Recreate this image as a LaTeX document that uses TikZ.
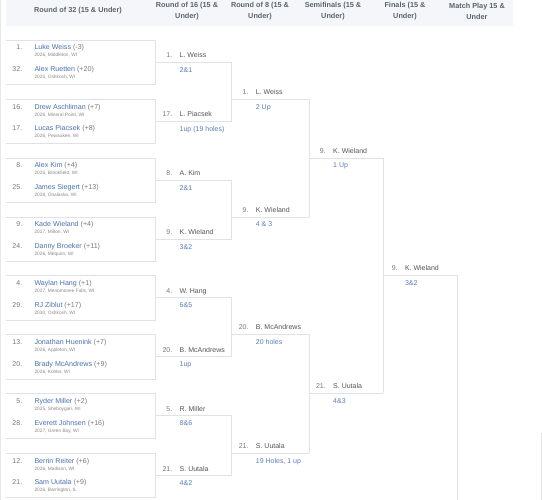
\documentclass[tikz,border=0pt]{standalone}
\usepackage{fontspec}
\setmainfont{Liberation Sans}
\definecolor{hdrbg}{HTML}{F4F6F9}
\definecolor{hdrtx}{HTML}{5B6370}
\definecolor{ln}{HTML}{DFE3E8}
\definecolor{edge}{HTML}{E6E8EB}
\definecolor{link}{HTML}{4A72AD}
\definecolor{score}{HTML}{5A80B9}
\definecolor{num}{HTML}{7A7A7A}
\definecolor{sub}{HTML}{8A8A8A}
\definecolor{nm}{HTML}{555555}

\newcommand{\rbox}[2]{%
  \node[rbx] (#1) at (6,#2) {};
  \draw[conn] (#1.north west) -- (#1.north east) -- (#1.south east) -- (#1.south west);
}
\newcommand{\rentry}[7]{%
  \node[seed] (#1#2n) at ([shift={(16.4,#3)}]#1.north west) {#4};
  \node[pname] (#1#2p) at ([shift={(28.3,#3)}]#1.north west) {#5 \textcolor{num}{#6}};
  \node[ploc] (#1#2l) at ([shift={(28.3,#3+7)}]#1.north west) {#7};
}
\newcommand{\slot}[7][0]{%
  \coordinate (#2L) at #3;
  \coordinate (#2R) at (#2L -| #4,0);
  \draw[conn] (#2L) -- (#2R);
  \node[wseed] (#2s) at ([shift={(17+#1,-4.5)}]#2L) {#5};
  \node[wname] (#2n) at ([shift={(24+#1,-4.5)}]#2L) {#6};
  \node[wscore] (#2c) at ([shift={(24+#1,10)}]#2L) {#7};
}

\begin{document}
\begin{tikzpicture}[x=1pt,y=-1pt,
  hdr/.style={font=\fontsize{7.3}{11}\selectfont\bfseries, text=hdrtx, align=center, inner sep=0},
  seed/.style={anchor=base east, inner sep=0, font=\fontsize{7}{8}\selectfont, text=num},
  pname/.style={anchor=base west, inner sep=0, font=\fontsize{7.1}{8}\selectfont, text=link},
  ploc/.style={anchor=base west, inner sep=0, font=\fontsize{4.8}{6}\selectfont, text=sub},
  wseed/.style={anchor=base east, inner sep=0, font=\fontsize{7}{8}\selectfont, text=num},
  wname/.style={anchor=base west, inner sep=0, font=\fontsize{7}{8}\selectfont, text=nm},
  wscore/.style={anchor=base west, inner sep=0, font=\fontsize{7}{8}\selectfont, text=score},
  rbx/.style={minimum width=149.5pt, minimum height=44.5pt, inner sep=0, outer sep=0, anchor=north west},
  conn/.style={draw=ln, line width=0.9pt},
  edgeline/.style={draw=edge, line width=0.8pt},
]
\useasboundingbox (0,0) rectangle (542,500);
\fill[white] (0,0) rectangle (542,500);

% faint left edge
\coordinate (lb1) at (0.8,0);
\coordinate (lb2) at (0.8,500);
\draw[edgeline] (lb1) -- (lb2);

% header
\fill[hdrbg] (6,0) rectangle (513,26);
\node[hdr] (h32) at (78,11) {Round of 32 (15 \& Under)};
\node[hdr] (h16) at (187,11) {Round of 16 (15 \&\\Under)};
\node[hdr] (h8)  at (260,11) {Round of 8 (15 \&\\Under)};
\node[hdr] (hsf) at (333,11) {Semifinals (15 \&\\Under)};
\node[hdr] (hf)  at (405,11) {Finals (15 \&\\Under)};
\node[hdr] (hmp) at (477,11) {Match Play 15 \&\\Under};

% round of 32
\rbox{b1}{40}
\rentry{b1}{a}{10}{1.}{Luke Weiss}{(-3)}{2026, Middleton, WI}
\rentry{b1}{b}{31.7}{32.}{Alex Ruetten}{(+20)}{2025, Oshkosh, WI}
\rbox{b2}{99.2}
\rentry{b2}{a}{10}{16.}{Drew Aschliman}{(+7)}{2026, Mineral Point, WI}
\rentry{b2}{b}{31.7}{17.}{Lucas Piacsek}{(+8)}{2026, Pewaukee, WI}
\rbox{b3}{158}
\rentry{b3}{a}{10}{8.}{Alex Kim}{(+4)}{2025, Brookfield, WI}
\rentry{b3}{b}{31.7}{25.}{James Siegert}{(+13)}{2028, Onalaska, WI}
\rbox{b4}{217}
\rentry{b4}{a}{10}{9.}{Kade Wieland}{(+4)}{2027, Milton, WI}
\rentry{b4}{b}{31.7}{24.}{Danny Broeker}{(+11)}{2026, Mequon, WI}
\rbox{b5}{275.5}
\rentry{b5}{a}{10}{4.}{Waylan Hang}{(+1)}{2027, Menomonee Falls, WI}
\rentry{b5}{b}{31.7}{29.}{RJ Ziblut}{(+17)}{2030, Oshkosh, WI}
\rbox{b6}{334.5}
\rentry{b6}{a}{10}{13.}{Jonathan Huenink}{(+7)}{2026, Appleton, WI}
\rentry{b6}{b}{31.7}{20.}{Brady McAndrews}{(+9)}{2026, Kohler, WI}
\rbox{b7}{393.5}
\rentry{b7}{a}{10}{5.}{Ryder Miller}{(+2)}{2025, Sheboygan, WI}
\rentry{b7}{b}{31.7}{28.}{Everett Johnsen}{(+16)}{2027, Green Bay, WI}
\rbox{b8}{453.3}
\rentry{b8}{a}{10}{12.}{Berrin Reiter}{(+6)}{2026, Madison, WI}
\rentry{b8}{b}{31.7}{21.}{Sam Uutala}{(+9)}{2026, Barrington, IL}

% round of 16
\slot{m1}{(b1.east)}{231.7}{1.}{L. Weiss}{2\&1}
\slot{m2}{(b2.east)}{231.7}{17.}{L. Piacsek}{1up (19 holes)}
\slot{m3}{(b3.east)}{231.7}{8.}{A. Kim}{2\&1}
\slot{m4}{(b4.east)}{231.7}{9.}{K. Wieland}{3\&2}
\slot{m5}{(b5.east)}{231.7}{4.}{W. Hang}{6\&5}
\slot{m6}{(b6.east)}{231.7}{20.}{B. McAndrews}{1up}
\slot{m7}{(b7.east)}{231.7}{5.}{R. Miller}{8\&6}
\slot{m8}{(b8.east)}{231.7}{21.}{S. Uutala}{4\&2}
\draw[conn] (m1R) -- (m2R);
\draw[conn] (m3R) -- (m4R);
\draw[conn] (m5R) -- (m6R);
\draw[conn] (m7R) -- (m8R);

% round of 8
\slot{q1}{(m1R |- b2.north)}{309}{1.}{L. Weiss}{2 Up}
\slot{q2}{(m3R |- b4.north)}{309}{9.}{K. Wieland}{4 \& 3}
\slot{q3}{(m5R |- b6.north)}{309}{20.}{B. McAndrews}{20 holes}
\slot{q4}{(m7R |- b8.north)}{309}{21.}{S. Uutala}{19 Holes, 1 up}
\draw[conn] (q1R) -- (q2R);
\draw[conn] (q3R) -- (q4R);

% semifinals
\slot{s1}{(q1R |- b3.north)}{383.3}{9.}{K. Wieland}{1 Up}
\slot{s2}{(q3R |- b7.north)}{383.3}{21.}{S. Uutala}{4\&3}
\draw[conn] (s1R) -- (s2R);

% finals
\slot[-2.5]{f1}{(s1R |- b5.north)}{457.7}{9.}{K. Wieland}{3\&2}
\coordinate (fend) at (457.7,500);
\draw[conn] (f1R) -- (fend);

% faint right edge
\coordinate (sb1) at (541.3,433);
\coordinate (sb2) at (541.3,500);
\draw[edgeline] (sb1) -- (sb2);
\end{tikzpicture}
\end{document}
